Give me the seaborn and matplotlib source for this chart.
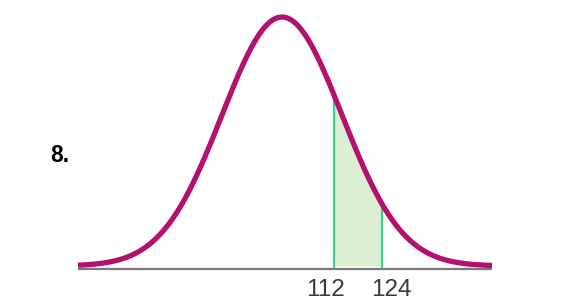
import numpy as np
import pandas as pd
import matplotlib
matplotlib.use("Agg")
import matplotlib.pyplot as plt
import matplotlib.transforms as mtransforms
import seaborn as sns

# ---- data ----
mu = 99.0          # mean of the normal curve
sigma = 15.0       # standard deviation
x_start = 48.0     # left end of drawn curve
x_end = 151.5      # right end of drawn curve
shade_low = 112    # left edge of shaded region
shade_high = 124   # right edge of shaded region
tick_values = [112, 124]
tick_labels = ["112", "124"]
problem_label = "8."

x = np.linspace(x_start, x_end, 600)
pdf = np.exp(-0.5 * ((x - mu) / sigma) ** 2) / (sigma * np.sqrt(2 * np.pi))
df = pd.DataFrame({"x": x, "density": pdf})

sns.set_theme(style="white")
plt.rcParams["font.family"] = ["Liberation Sans", "DejaVu Sans"]

W, H = 580, 308
fig = plt.figure(figsize=(W / 100, H / 100), dpi=100)
base_px = 269
ax = fig.add_axes([0, (H - base_px) / H, 1, base_px / H])

peak = 1 / (sigma * np.sqrt(2 * np.pi))
px_per = 249 / peak
ax.set_xlim(112 - 334 / 4, 112 + (W - 334) / 4)
ax.set_ylim(-3 / px_per, 266 / px_per)

# shaded region
mask = (x >= shade_low) & (x <= shade_high)
ax.fill_between(x[mask], 0, pdf[mask], color="#dcefd3", lw=0, zorder=1)

# green boundary lines
hv = np.exp(-0.5 * ((np.array([shade_low, shade_high]) - mu) / sigma) ** 2) / (sigma * np.sqrt(2 * np.pi))
ax.vlines([shade_low, shade_high], -3 / px_per, hv, color="#3ccf8e", lw=1.6, zorder=2)

# baseline
ax.hlines(-3 / px_per, x_start, x_end, color="#7a7a7a", lw=1.6, zorder=2, clip_on=False)

# curve
sns.lineplot(data=df, x="x", y="density", ax=ax, color="#b3106f", lw=3.8,
             zorder=3, solid_capstyle="butt")

for s in ax.spines.values():
    s.set_visible(False)
ax.set_xlabel("")
ax.set_ylabel("")
ax.set_yticks([])
ax.set_xticks(tick_values)
ax.set_xticklabels(tick_labels, fontsize=17.5, color="#3a3a3a")
ax.tick_params(axis="x", length=0, pad=7.5)
for lab, dx in zip(ax.get_xticklabels(), [-8, 9]):
    lab.set_transform(lab.get_transform() +
                      mtransforms.ScaledTranslation(dx / 100, 0, fig.dpi_scale_trans))

fig.text(50 / W, 1 - 156 / H, problem_label, fontsize=16.4, fontweight="bold",
         ha="left", va="center", color="black")

fig.savefig("out.png", dpi=100)
